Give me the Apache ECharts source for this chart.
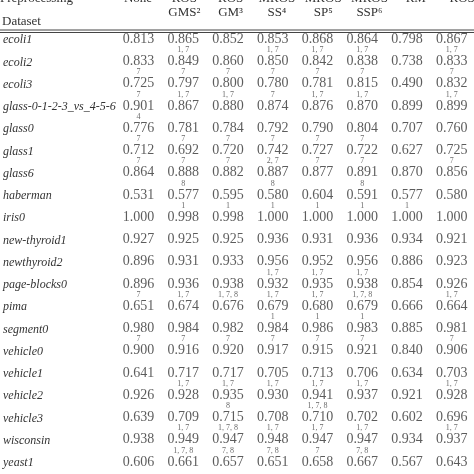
<!DOCTYPE html><html><head><meta charset="utf-8">
<script src="https://cdn.jsdelivr.net/npm/echarts@6/dist/echarts.min.js"></script>
<style>html,body{margin:0;background:#fff}#c{width:474px;height:474px}</style></head><body><div id="c"></div>
<script>
const datasets=["ecoli1","ecoli2","ecoli3","glass-0-1-2-3_vs_4-5-6","glass0","glass1","glass6","haberman","iris0","new-thyroid1","newthyroid2","page-blocks0","pima","segment0","vehicle0","vehicle1","vehicle2","vehicle3","wisconsin","yeast1"];
const methods=["None","ROS","ROS","MROS","MROS","MROS","RM","ROS"];
const methodSub=["","GMS²","GM³","SS⁴","SP⁵","SSP⁶","",""];
const values=[
[0.813,0.865,0.852,0.853,0.868,0.864,0.798,0.867],
[0.833,0.849,0.860,0.850,0.842,0.838,0.738,0.833],
[0.725,0.797,0.800,0.780,0.781,0.815,0.490,0.832],
[0.901,0.867,0.880,0.874,0.876,0.870,0.899,0.899],
[0.776,0.781,0.784,0.792,0.790,0.804,0.707,0.760],
[0.712,0.692,0.720,0.742,0.727,0.722,0.627,0.725],
[0.864,0.888,0.882,0.887,0.877,0.891,0.870,0.856],
[0.531,0.577,0.595,0.580,0.604,0.591,0.577,0.580],
[1.000,0.998,0.998,1.000,1.000,1.000,1.000,1.000],
[0.927,0.925,0.925,0.936,0.931,0.936,0.934,0.921],
[0.896,0.931,0.933,0.956,0.952,0.956,0.886,0.923],
[0.896,0.936,0.938,0.932,0.935,0.938,0.854,0.926],
[0.651,0.674,0.676,0.679,0.680,0.679,0.666,0.664],
[0.980,0.984,0.982,0.984,0.986,0.983,0.885,0.981],
[0.900,0.916,0.920,0.917,0.915,0.921,0.840,0.906],
[0.641,0.717,0.717,0.705,0.713,0.706,0.634,0.703],
[0.926,0.928,0.935,0.930,0.941,0.937,0.921,0.928],
[0.639,0.709,0.715,0.708,0.710,0.702,0.602,0.696],
[0.938,0.949,0.947,0.948,0.947,0.947,0.934,0.937],
[0.606,0.661,0.657,0.651,0.658,0.667,0.567,0.643]];
const marks=[
["","1, 7","","1, 7","1, 7","1, 7","","1, 7"],
["7","7","7","7","7","7","","7"],
["7","1, 7","1, 7","7","1, 7","1, 7","","1, 7"],
["4","","","","","","",""],
["7","7","7","7","7","7","",""],
["7","7","7","2, 7","7","7","","7"],
["","8","","8","","8","",""],
["","1","1","1","1","1","1",""],
["","","","","","","",""],
["","","","","","","",""],
["","","","1, 7","1, 7","1, 7","",""],
["7","1, 7","1, 7, 8","1, 7","1, 7","1, 7, 8","","1, 7"],
["","","","1","1","1","",""],
["7","7","7","7","7","7","","7"],
["","","","","","","",""],
["","1, 7","1, 7","1, 7","1, 7","1, 7","","1, 7"],
["","","8","","1, 7, 8","","",""],
["","1, 7","1, 7, 8","1, 7","1, 7","1, 7","","1, 7"],
["","1, 7, 8","7, 8","7, 8","7","7, 8","",""],
["","","","","","","",""]];
const F='"Liberation Serif","DejaVu Serif",serif';
const valData=[],markData=[];
values.forEach((r,i)=>r.forEach((v,j)=>{valData.push([j,datasets[i],v.toFixed(3)]);if(marks[i][j])markData.push([j,datasets[i],marks[i][j]]);}));
const g=[];
g.push({type:'text',left:0,top:-8,style:{text:'Preprocessing',font:'13px '+F,fill:'#333'}});
g.push({type:'text',left:2,top:15,style:{text:'Dataset',font:'13px '+F,fill:'#333'}});
g.push({type:'line',shape:{x1:0,y1:30,x2:474,y2:30},style:{stroke:'#444',lineWidth:1}});
g.push({type:'line',shape:{x1:0,y1:32.5,x2:474,y2:32.5},style:{stroke:'#444',lineWidth:1}});
const chart=echarts.init(document.getElementById('c'));
const colX=j=>138+46.3*j;
methods.forEach((m,j)=>{g.push({type:'text',x:colX(j),y:-8,style:{text:m,font:'13px '+F,fill:'#333',align:'center'}});
 if(methodSub[j])g.push({type:'text',x:colX(j),y:6,style:{text:methodSub[j],font:'13px '+F,fill:'#333',align:'center'}});});
chart.setOption({animation:false,
grid:{left:115,right:-11,top:29,height:455},
xAxis:{type:'value',min:-0.5,max:7.5,show:false},
yAxis:{type:'category',data:datasets,inverse:true,axisLine:{show:false},axisTick:{show:false},
 axisLabel:{align:'left',margin:113,fontFamily:F,fontStyle:'italic',fontSize:12,color:'#333',padding:[7,0,0,0]}},
graphic:g,
series:[
{type:'scatter',symbolSize:0,data:valData,label:{show:true,position:'inside',offset:[0,-1],formatter:p=>p.data[2],fontFamily:F,fontSize:14,color:'#333'}},
{type:'scatter',symbolSize:0,data:markData,label:{show:true,position:'inside',offset:[0,10],formatter:p=>p.data[2],fontFamily:F,fontSize:8,color:'#444'}}
]});
</script></body></html>
